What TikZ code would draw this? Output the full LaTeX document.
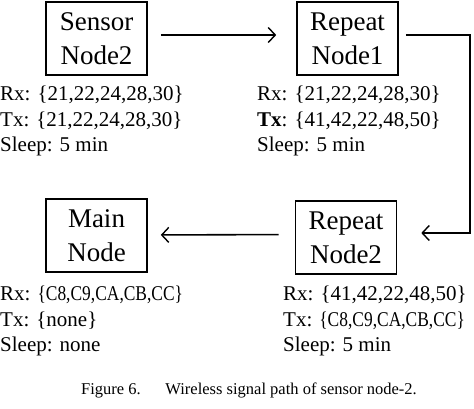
\documentclass[tikz,border=0pt]{standalone}
\usepackage{fontspec}
\usepackage{graphicx}
\setmainfont{Liberation Serif}
\usetikzlibrary{arrows.meta}
\newcommand{\narrowset}[1]{\scalebox{0.83}[1]{#1}}
\begin{document}
\begin{tikzpicture}[x=1pt,y=-1pt,
  box/.style={draw,line width=1.6pt,minimum width=101pt,minimum height=73pt,inner sep=0pt,align=center,font=\fontsize{27}{34}\selectfont},
  info/.style={anchor=north west,inner sep=0pt,align=left,font=\fontsize{21}{25.5}\selectfont},
  conn/.style={line width=1.6pt,-{Straight Barb[length=7pt,width=15pt,line width=1.4pt]}}]
\useasboundingbox (0,0) rectangle (474,409);
\node[box] (s) at (96.5,38.5) {Sensor\\Node2};
\node[box] (r1) at (347.5,38.5) {Repeat\\Node1};
\node[box] (m) at (96.5,235.5) {Main\\Node};
\node[box] (r2) at (346,237.5) {Repeat\\Node2};
\node[info] (ts) at (0,86) {Rx: \{21,22,24,28,30\}\\Tx: \{21,22,24,28,30\}\\Sleep: 5 min};
\node[info] (tr1) at (257,86) {Rx: \{21,22,24,28,30\}\\\textbf{Tx}: \{41,42,22,48,50\}\\Sleep: 5 min};
\node[info] (tm) at (0,286) {Rx: \narrowset{\{C8,C9,CA,CB,CC\}}\\Tx: \{none\}\\Sleep: none};
\node[info] (tr2) at (283,286) {Rx: \{41,42,22,48,50\}\\Tx: \narrowset{\{C8,C9,CA,CB,CC\}}\\Sleep: 5 min};
\node[font=\fontsize{16.5}{20}\selectfont,inner sep=0pt] (cap) at (249,390) {Figure 6.\hspace{1.5em}Wireless signal path of sensor node-2.};
\draw[conn,shorten <=13pt,shorten >=20pt] ([yshift=3.5pt]s.east) -- ([yshift=3.5pt]r1.west);
\draw[conn] ([xshift=7pt,yshift=3.5pt]r1.east) -| ++(64pt,0) |- ([xshift=24pt,yshift=4.5pt]r2.east);
\draw[conn,shorten <=16pt,shorten >=13pt] ([yshift=3pt]r2.west) -- ([yshift=0.5pt]m.east);
\end{tikzpicture}
\end{document}
